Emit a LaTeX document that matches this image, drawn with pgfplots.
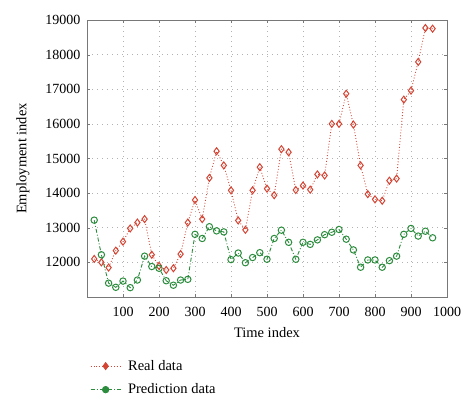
\documentclass[border=0pt]{standalone}
\usepackage{pgfplots}
\pgfplotsset{compat=1.18}
\usepackage{fontspec}
\setmainfont{Liberation Serif}

\definecolor{realred}{RGB}{210,68,52}
\definecolor{predgreen}{RGB}{44,140,62}
\definecolor{framegray}{RGB}{120,120,120}
\newcommand{\chartfont}{\fontsize{14}{16}\selectfont}
\newcommand{\labelfont}{\fontsize{14.5}{16}\selectfont}

\pgfplotstableread{
x y
20 12100
40 12000
60 11850
80 12340
100 12600
120 12980
140 13150
160 13250
180 12220
200 11900
220 11780
240 11830
260 12240
280 13150
300 13800
320 13250
340 14440
360 15210
380 14800
400 14080
420 13210
440 12940
460 14080
480 14750
500 14130
520 13940
540 15270
560 15180
580 14090
600 14220
620 14100
640 14540
660 14510
680 16000
700 16000
720 16870
740 15980
760 14800
780 13970
800 13820
820 13780
840 14360
860 14420
880 16700
900 16960
920 17790
940 18770
960 18750
}\realdata

\pgfplotstableread{
x y
20 13220
40 12220
60 11400
80 11280
100 11460
120 11270
140 11490
160 12180
180 11880
200 11830
220 11470
240 11340
260 11490
280 11510
300 12810
320 12690
340 13030
360 12910
380 12880
400 12080
420 12270
440 11990
460 12140
480 12280
500 12090
520 12690
540 12930
560 12580
580 12090
600 12580
620 12520
640 12650
660 12800
680 12870
700 12950
720 12670
740 12360
760 11860
780 12070
800 12070
820 11860
840 12050
860 12180
880 12810
900 12980
920 12760
940 12900
960 12710
}\preddata

\begin{document}
\begin{tikzpicture}
\useasboundingbox (0,0) rectangle (474pt,412pt);
\begin{axis}[
    at={(87pt,115pt)}, anchor=south west,
    width=360pt, height=277pt, scale only axis,
    xmin=0, xmax=1000, ymin=11000, ymax=19000,
    xtick={100,200,...,1000},
    ytick={12000,13000,...,19000},
    scaled ticks=false,
    /pgf/number format/set thousands separator={},
    /pgf/number format/assume math mode=true,
    tick label style={font=\chartfont},
    xticklabel style={yshift=-7pt},
    yticklabel style={xshift=-3pt},
    label style={font=\labelfont},
    axis line style={framegray, line width=0.8pt},
    tick align=inside,
    major tick length=3pt,
    tick style={framegray},
    grid=major,
    grid style={gray!60, line width=0.7pt, dash pattern=on 0.7pt off 4.3pt},
    xlabel={Time index},
    ylabel={Employment index},
    xlabel style={yshift=-4pt},
    ylabel style={yshift=9pt},
    legend style={at={(0,-0.292)}, anchor=west, draw=none, fill=none,
                  row sep=8pt, font=\labelfont,
                  nodes={inner sep=2pt},
                  /tikz/every odd column/.append style={column sep=5pt}},
    legend cell align=left,
    legend image code/.code={%
        \draw[mark repeat=2, mark phase=2] plot coordinates {(0pt,0pt) (15pt,0pt) (30pt,0pt)};},
]
\addplot[forget plot, realred, line width=0.85pt, dash pattern=on 0.9pt off 2pt,
    mark=diamond, mark size=3.5pt, mark options={solid, line width=1pt}]
    table[x=x, y=y] {\realdata};
\addplot[forget plot, predgreen, line width=0.9pt, dash pattern=on 4pt off 2pt on 0.9pt off 2pt,
    mark=o, mark size=3.2pt, mark options={solid, line width=1pt}]
    table[x=x, y=y] {\preddata};

\addlegendimage{realred, line width=0.85pt, dash pattern=on 0.9pt off 2pt,
    mark=diamond*, mark size=3.5pt, mark options={solid, fill=realred}}
\addlegendentry{Real data}
\addlegendimage{predgreen, line width=0.9pt, dash pattern=on 4pt off 2pt on 0.9pt off 2pt,
    mark=*, mark size=3.2pt, mark options={solid, fill=predgreen}}
\addlegendentry{Prediction data}
\end{axis}
\end{tikzpicture}
\end{document}
